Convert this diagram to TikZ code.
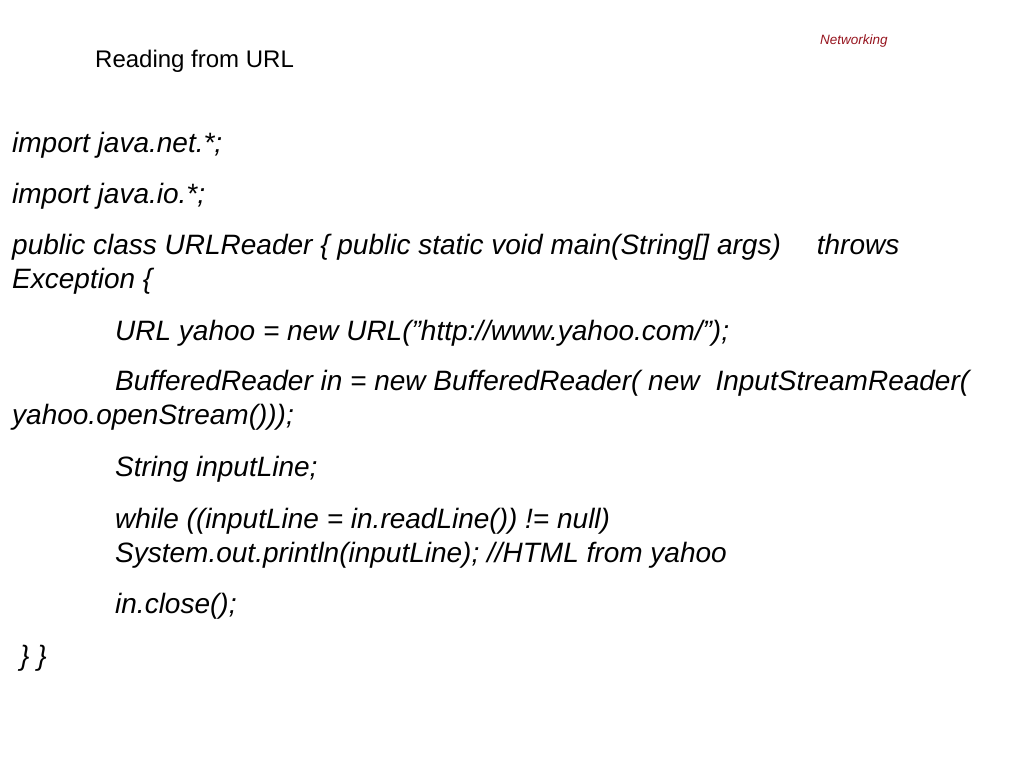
\documentclass[tikz,border=0pt]{standalone}
\usepackage{fontspec}
\setmainfont{Liberation Sans}
\definecolor{netred}{RGB}{150,20,30}
\newcommand{\dq}{\symbol{34}}
\begin{document}
\begin{tikzpicture}[x=1pt,y=-1pt,
  code/.style={anchor=base west,inner sep=0pt,font=\fontsize{28}{32}\selectfont\itshape}]
\useasboundingbox (0,0) rectangle (1024,768);
\node[anchor=base west,inner sep=0pt,font=\fontsize{13.5}{16}\selectfont\itshape,text=netred] (net) at (820,45) {Networking};
\node[anchor=base west,inner sep=0pt,font=\fontsize{24}{28}\selectfont] (title) at (95,67) {Reading from URL};
\node[code] (l1) at (12,152) {import java.net.*;};
\node[code] (l2) at (12,203) {import java.io.*;};
\node[code] (l3) at (12,254) {public class URLReader \{ public static void main(String[] args)\hspace{36pt}throws};
\node[code] (l3b) at (12,288) {Exception \{};
\node[code] (l4) at (115,340) {URL yahoo = new URL(\dq http://www.yahoo.com/\dq);};
\node[code] (l5) at (115,390) {BufferedReader in = new BufferedReader( new\hspace{16pt}InputStreamReader(};
\node[code] (l5b) at (12,424) {yahoo.openStream()));};
\node[code] (l6) at (115,476) {String inputLine;};
\node[code] (l7) at (115,528) {while ((inputLine = in.readLine()) != null)};
\node[code] (l7b) at (115,562) {System.out.println(inputLine); //HTML from yahoo};
\node[code] (l8) at (115,613) {in.close();};
\node[code] (l9) at (20,665) {\} \}};
\end{tikzpicture}
\end{document}
